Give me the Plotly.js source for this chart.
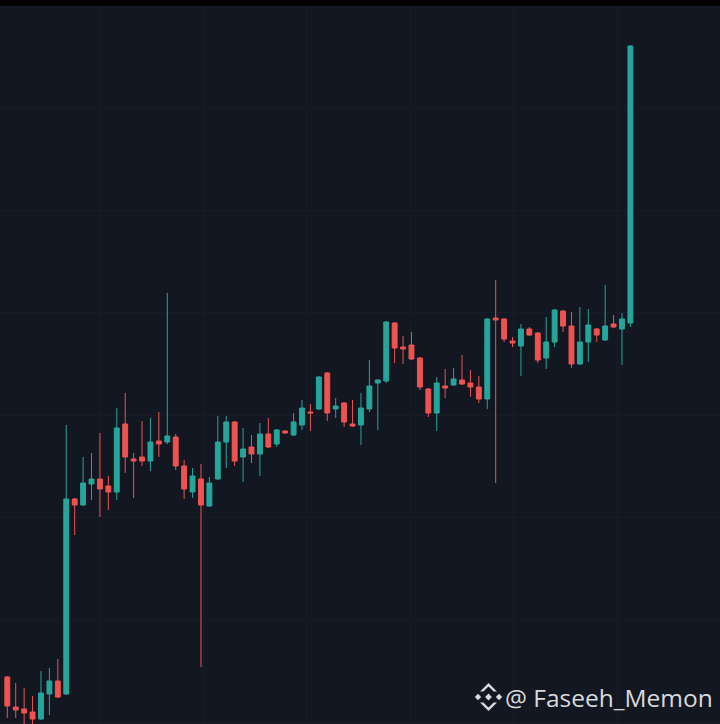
<!DOCTYPE html>
<html>
<head>
<meta charset="utf-8">
<script src="https://cdn.plot.ly/plotly-3.0.1.min.js"></script>
<style>
html,body{margin:0;padding:0;background:#000;}
#chart{width:720px;height:724px;}
</style>
</head>
<body>
<div id="chart"></div>
<script>
// Candle values (arbitrary price units)
const openVals = [0.47,0.17,0.15,0.12,0.05,0.30,0.43,0.30,2.25,2.19,2.40,2.45,2.38,2.32,3.00,2.65,2.67,2.63,2.83,2.82,
  2.87,2.58,2.32,2.45,2.18,2.45,2.82,3.02,2.67,2.77,2.70,2.90,2.80,2.93,2.89,2.99,3.12,3.15,3.51,3.15,
  3.21,3.00,2.99,3.15,3.41,3.43,4.01,3.77,3.79,3.66,3.35,3.11,3.38,3.39,3.44,3.41,3.37,3.25,4.06,4.05,
  3.83,3.78,3.95,3.91,3.66,3.82,4.13,3.98,3.60,3.82,3.95,3.84,4.00,3.95,4.01];
const highVals = [0.48,0.41,0.36,0.28,0.53,0.56,0.65,2.99,2.26,2.67,2.71,2.91,2.48,3.16,3.31,2.71,3.03,3.06,3.12,4.31,
  2.90,2.64,2.56,2.60,2.47,3.08,3.08,3.03,2.96,2.89,3.01,3.06,2.95,2.94,3.11,3.24,3.20,3.48,3.52,3.26,
  3.22,3.24,3.31,3.64,3.45,4.03,4.02,3.88,3.92,3.67,3.36,3.47,3.55,3.56,3.69,3.54,3.48,4.06,4.44,4.06,
  3.87,4.00,3.97,3.92,4.07,4.15,4.14,4.12,4.17,4.15,3.96,4.39,4.09,4.11,6.79];
const lowVals = [0.06,0.06,-0.05,-0.05,0.04,0.09,0.26,0.29,1.89,2.18,2.24,2.07,2.14,2.24,2.51,2.26,2.58,2.53,2.67,2.80,
  2.54,2.25,2.26,0.57,2.17,2.44,2.56,2.58,2.42,2.61,2.48,2.76,2.77,2.90,2.88,2.94,2.93,3.14,3.03,3.06,
  2.97,2.97,2.79,3.12,2.94,3.41,3.61,3.60,3.64,3.34,3.07,2.93,3.26,3.38,3.39,3.27,3.21,3.15,2.41,3.82,
  3.77,3.48,3.88,3.61,3.55,3.77,3.92,3.56,3.59,3.62,3.82,3.83,3.96,3.59,3.97];
const closeVals = [0.18,0.14,0.11,0.05,0.31,0.43,0.27,2.25,2.19,2.41,2.45,2.35,2.32,2.96,2.67,2.63,2.63,2.82,2.80,2.88,
  2.58,2.35,2.48,2.19,2.41,2.82,3.02,2.63,2.75,2.70,2.90,2.77,2.94,2.91,3.02,3.16,3.11,3.47,3.11,3.18,
  3.02,2.98,3.16,3.38,3.44,4.02,3.76,3.75,3.65,3.37,3.11,3.41,3.36,3.45,3.40,3.37,3.25,4.05,4.04,3.85,
  3.81,3.95,3.89,3.64,3.82,4.14,3.98,3.60,3.82,3.99,3.89,3.98,3.97,4.05,6.78];
const candleIndex = openVals.map((_, i) => i);

const watermarkText = "@ Faseeh_Memon";

const GREEN = '#26a69a';
const RED = '#ef5350';

const trace = {
  type: 'candlestick',
  x: candleIndex,
  open: openVals,
  high: highVals,
  low: lowVals,
  close: closeVals,
  increasing: {line: {color: GREEN, width: 1}, fillcolor: GREEN},
  decreasing: {line: {color: RED, width: 1}, fillcolor: RED},
  whiskerwidth: 0,
  hoverinfo: 'skip'
};

// Binance-style logo in paper coordinates (plot area: px 0..720, py 6..724)
function px(x){ return x / 720; }
function py(y){ return (724 - y) / 718; }
function diamond(cx, cy, r){
  return 'M' + px(cx) + ',' + py(cy - r) + ' L' + px(cx + r) + ',' + py(cy) +
         ' L' + px(cx) + ',' + py(cy + r) + ' L' + px(cx - r) + ',' + py(cy) + ' Z';
}
function chevron(cx, cy, r, t, dir){
  const a = [cx, cy + dir * r];
  const b = [cx + r, cy];
  const c = [cx + r - t, cy];
  const d = [cx, cy + dir * (r - t)];
  const e = [cx - r + t, cy];
  const f = [cx - r, cy];
  const pts = [a, b, c, d, e, f];
  return 'M' + pts.map(p => px(p[0]) + ',' + py(p[1])).join(' L') + ' Z';
}
const logoColor = '#d9d9db';
const cx = 488.5, cy = 697;
const logoShapes = [
  diamond(cx, cy, 3.4),
  diamond(cx - 10.5, cy, 3.2),
  diamond(cx + 10.5, cy, 3.2),
  chevron(cx, cy - 5.5, 8.5, 3.4, -1),
  chevron(cx, cy + 5.5, 8.5, 3.4, 1)
].map(p => ({type: 'path', xref: 'paper', yref: 'paper', path: p,
             fillcolor: logoColor, line: {width: 0}, layer: 'above'}));

const layout = {
  width: 720,
  height: 724,
  margin: {l: 0, r: 0, t: 6, b: 0, pad: 0},
  paper_bgcolor: '#000000',
  plot_bgcolor: '#131722',
  showlegend: false,
  dragmode: false,
  boxgap: 0.17,
  xaxis: {
    range: [-0.867, 84.64],
    showticklabels: false,
    ticks: '',
    showgrid: true,
    gridcolor: '#181c27',
    gridwidth: 1,
    tick0: 11.01,
    dtick: 12.28,
    zeroline: false,
    showline: false,
    rangeslider: {visible: false},
    fixedrange: true
  },
  yaxis: {
    range: [0, 7.18],
    showticklabels: false,
    ticks: '',
    showgrid: true,
    gridcolor: '#181c27',
    gridwidth: 1,
    tick0: 1.04,
    dtick: 1.024,
    zeroline: false,
    showline: false,
    fixedrange: true
  },
  shapes: logoShapes,
  annotations: [{
    xref: 'paper', yref: 'paper',
    x: 715 / 720, y: (724 - 697) / 718,
    xanchor: 'right', yanchor: 'middle',
    text: watermarkText,
    showarrow: false,
    font: {family: 'Open Sans, Noto Sans, sans-serif', size: 24.5, color: '#d9d9db'}
  }]
};

Plotly.newPlot('chart', [trace], layout, {staticPlot: true, displayModeBar: false});
</script>
</body>
</html>
